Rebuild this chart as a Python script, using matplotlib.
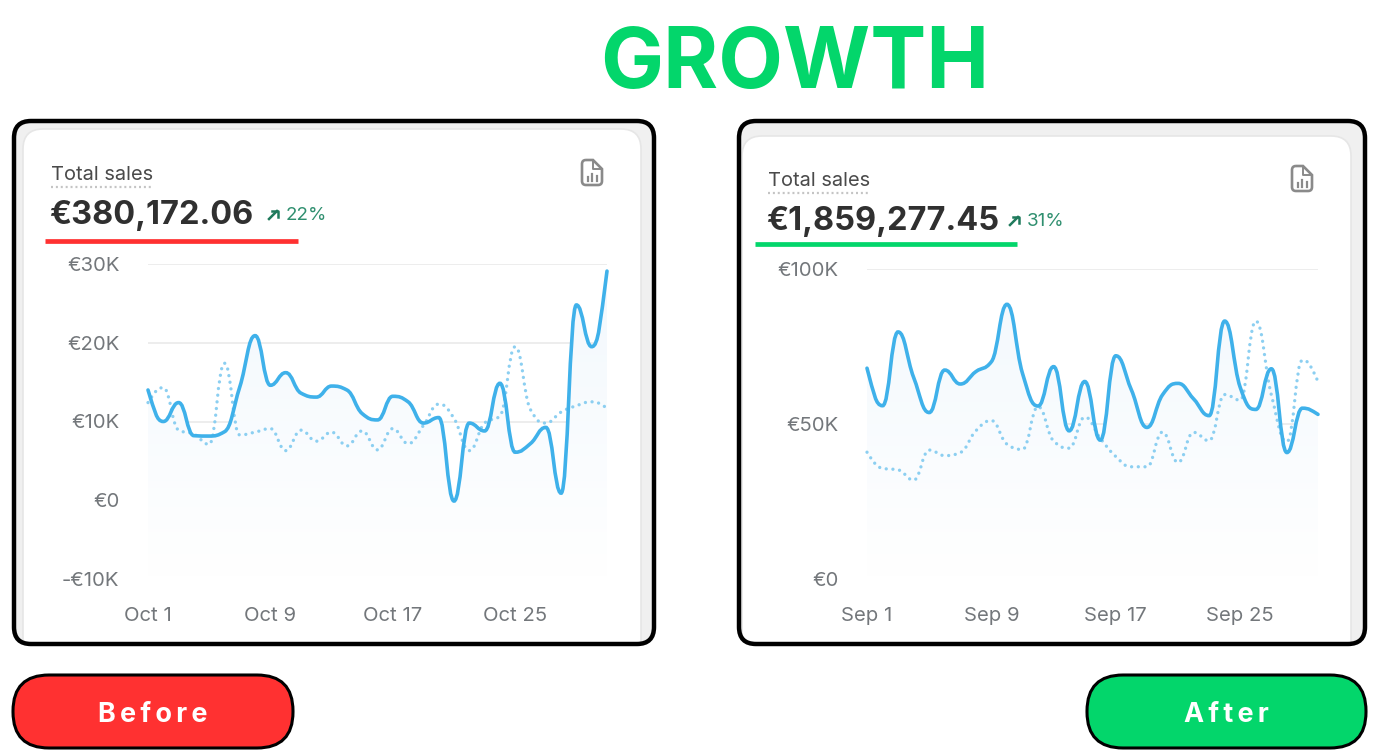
import numpy as np
import matplotlib
matplotlib.use('Agg')
import matplotlib.pyplot as plt
from matplotlib.patches import FancyBboxPatch, PathPatch
from matplotlib.path import Path
from matplotlib.colors import LinearSegmentedColormap

plt.rcParams['font.family'] = ['Inter', 'DejaVu Sans']

# values, in thousands of euro, one per day
before_now = [14.0, 10.0, 12.4, 8.2, 8.15, 8.7, 14.4, 20.9, 14.6, 16.2, 13.6, 13.1, 14.5, 14.0, 11.0, 10.2,
              13.2, 12.5, 9.8, 10.5, -0.1, 9.8, 8.8, 14.85, 6.1, 7.2, 9.25, 0.9, 24.8, 19.5, 29.1]
before_prev = [12.4, 14.3, 8.9, 8.4, 7.1, 17.4, 8.3, 8.65, 9.1, 6.3, 8.9, 7.5, 8.65, 6.9, 8.8, 6.4,
               9.1, 7.2, 9.5, 12.2, 10.4, 6.3, 9.8, 10.7, 19.5, 11.5, 9.8, 11.2, 12.0, 12.5, 11.7]
after_now = [68.0, 55.9, 79.7, 65.0, 53.7, 67.4, 62.9, 66.9, 70.1, 88.6, 66.3, 55.8, 68.5, 47.8, 63.7,
             44.8, 72.0, 61.0, 48.9, 59.4, 63.1, 58.1, 52.7, 83.2, 61.8, 54.7, 67.8, 40.8, 55.1, 53.1]
after_prev = [40.9, 35.7, 35.2, 31.9, 41.6, 39.8, 40.8, 47.8, 51.1, 43.5, 41.8, 55.6, 44.5, 42.2, 52.2,
              45.4, 39.5, 36.2, 36.2, 47.4, 37.6, 47.3, 44.6, 59.5, 57.7, 83.2, 59.4, 44.3, 70.6, 63.7]

before_xlabels = ['Oct 1', 'Oct 9', 'Oct 17', 'Oct 25']
after_xlabels = ['Sep 1', 'Sep 9', 'Sep 17', 'Sep 25']
before_yticks = [-10, 0, 10, 20, 30]
before_ylabels = ['-€10K', '€0', '€10K', '€20K', '€30K']
after_yticks = [0, 50, 100]
after_ylabels = ['€0', '€50K', '€100K']

GREEN = '#03d66b'
RED = '#ff3131'
BLUE = '#3fb1ea'
LIGHT = '#8ccff1'
GREY = '#73777b'
W, H = 1380, 750
HANDLE = 0.45


def smooth_path(y):
    # monotone bezier segments through the daily values, flat at peaks and dips
    y = np.array(y, dtype=float)
    x = np.arange(len(y), dtype=float)
    s = np.diff(y)
    dy = np.zeros(len(y))
    for i in range(1, len(y) - 1):
        dy[i] = (np.sign(s[i-1]) + np.sign(s[i])) * min(abs(s[i-1]), abs(s[i]), 0.25*abs(s[i-1] + s[i]))
    dy[0] = (3*s[0] - dy[1]) / 2
    dy[-1] = (3*s[-1] - dy[-2]) / 2
    verts = [(x[0], y[0])]
    codes = [Path.MOVETO]
    for i in range(len(y) - 1):
        verts += [(x[i] + HANDLE, y[i] + dy[i]*HANDLE), (x[i+1] - HANDLE, y[i+1] - dy[i+1]*HANDLE), (x[i+1], y[i+1])]
        codes += [Path.CURVE4] * 3
    return verts, codes


def chart(box, now, prev, xlabels, yticks, ylabels):
    left, top, right, bottom = box
    ax = fig.add_axes([left/W, 1 - bottom/H, (right-left)/W, (bottom-top)/H])
    ax.patch.set_alpha(0)
    for s in ax.spines.values():
        s.set_visible(False)
    ax.set_yticks(yticks)
    ax.set_yticklabels(ylabels)
    ax.set_xticks([0, 8, 16, 24])
    ax.set_xticklabels(xlabels)
    ax.tick_params(length=0, labelsize=14.6, labelcolor=GREY)
    ax.tick_params(axis='y', pad=20.5)
    ax.tick_params(axis='x', pad=20)
    ax.grid(axis='y', color='#ececec', lw=1.3)
    ax.set_axisbelow(True)

    xmax = len(now) - 1
    # soft fill under the current period
    verts, codes = smooth_path(now)
    fill = Path(verts + [(xmax, yticks[0]), (0, yticks[0]), (0, now[0])],
                codes + [Path.LINETO, Path.LINETO, Path.LINETO])
    cmap = LinearSegmentedColormap.from_list('fade', ['#f2f8fd', '#ffffff'])
    im = ax.imshow(np.linspace(0, 1, 100).reshape(-1, 1), cmap=cmap, aspect='auto', zorder=1,
                   extent=(0, xmax, yticks[0], yticks[-1]))
    im.set_clip_path(PathPatch(fill, transform=ax.transData))

    pv, pc = smooth_path(prev)
    ax.add_patch(PathPatch(Path(pv, pc), fill=False, ec=LIGHT, lw=2.4, capstyle='round',
                           ls=(0, (0.01, 2.0)), zorder=2, clip_on=False))
    ax.add_patch(PathPatch(Path(verts, codes), fill=False, ec=BLUE, lw=2.6, capstyle='round',
                           zorder=3, clip_on=False))
    ax.set_xlim(0, xmax)
    ax.set_ylim(yticks[0], yticks[-1])
    return ax


def panel(x0, x1, card_x0, card_x1, card_y):
    frame = FancyBboxPatch((x0, 121), x1-x0, 523, boxstyle='round,pad=0,rounding_size=17',
                           fc='#f0f0f0', ec='none', zorder=1)
    bg.add_patch(frame)
    card = FancyBboxPatch((card_x0, card_y), card_x1-card_x0, 600, boxstyle='round,pad=0,rounding_size=20',
                          fc='white', ec='#e6e6e6', lw=1.2, zorder=2)
    bg.add_patch(card)
    card.set_clip_path(frame)
    bg.add_patch(FancyBboxPatch((x0, 121), x1-x0, 523, boxstyle='round,pad=0,rounding_size=17',
                                fc='none', ec='black', lw=3.2, zorder=5))


def file_icon(x, y):
    # small report icon, x,y is the top left corner
    c = '#8a8a8a'
    w, h = 20, 25
    body = Path([(x+4, y), (x+11, y), (x+w, y+9), (x+w, y+h-4), (x+w, y+h), (x+w-4, y+h), (x+4, y+h),
                 (x, y+h), (x, y+h-4), (x, y+4), (x, y), (x+4, y)],
                [Path.MOVETO, Path.LINETO, Path.LINETO, Path.LINETO, Path.CURVE3, Path.CURVE3, Path.LINETO,
                 Path.CURVE3, Path.CURVE3, Path.LINETO, Path.CURVE3, Path.CURVE3])
    bg.add_patch(PathPatch(body, fc='white', ec=c, lw=1.9, zorder=3))
    bg.plot([x+11, x+11, x+w], [y, y+9, y+9], color=c, lw=1.4, zorder=3)
    for dx, top in [(5.5, 17), (10, 14), (14.5, 16)]:
        bg.plot([x+dx, x+dx], [y+top, y+21], color=c, lw=1.6, zorder=3)


def head(x, base, amount, amount_base, arrow_x, pct, under, under_color, dot_end):
    bg.text(x, base, 'Total sales', fontsize=14.4, color='#4a4a4a', zorder=4)
    bg.plot([x, dot_end], [base+7, base+7], color='#c4c4c4', lw=1.6, ls=(0, (0.9, 1.3)), zorder=4)
    bg.text(x-1.5, amount_base, amount, fontsize=23.4, fontweight='bold', color='#303030', zorder=4)
    a = arrow_x
    b = amount_base - 5
    bg.plot([a, a+8], [b, b-8], color='#1f7a5c', lw=1.8, zorder=4)
    bg.plot([a+2.5, a+8.5, a+8.5], [b-8.5, b-8.5, b-2.5], color='#1f7a5c', lw=1.8, zorder=4)
    bg.text(a+17, amount_base-4, pct, fontsize=13.5, color='#2f8f6f', zorder=4)
    bg.plot(under[:2], [under[2], under[2]], color=under_color, lw=3.4, solid_capstyle='butt', zorder=4)


def pill(x0, x1, label, color):
    bg.add_patch(FancyBboxPatch((x0, 675), x1-x0, 73, boxstyle='round,pad=0,rounding_size=36',
                                fc=color, ec='black', lw=2.2, zorder=2))
    bg.text((x0+x1)/2, 715, '\u200a\u200a'.join(label), color='white', fontsize=19.4, fontweight='bold',
            ha='center', va='center', zorder=3)


fig = plt.figure(figsize=(W/100, H/100), dpi=100, facecolor='white')
bg = fig.add_axes([0, 0, 1, 1])
bg.set_xlim(0, W)
bg.set_ylim(H, 0)
bg.axis('off')

bg.text(795, 88, 'GROWTH', fontsize=60.5, fontweight='bold', color=GREEN, ha='center')

panel(14, 654, 23, 641, 129)
panel(739, 1365, 742, 1351, 136)
file_icon(582, 160)
file_icon(1292, 166)
head(51, 180, '€380,172.06', 224, 269, '22%', (45, 298, 241), RED, 152)
head(768, 186, '€1,859,277.45', 230, 1010, '31%', (755, 1017, 243.5), GREEN, 868)
pill(13, 293, 'Before', RED)
pill(1087, 1366, 'After', GREEN)

chart((148, 264, 607, 579), before_now, before_prev, before_xlabels, before_yticks, before_ylabels)
chart((867, 269, 1318, 579), after_now, after_prev, after_xlabels, after_yticks, after_ylabels)

fig.savefig('out.png', dpi=100)
